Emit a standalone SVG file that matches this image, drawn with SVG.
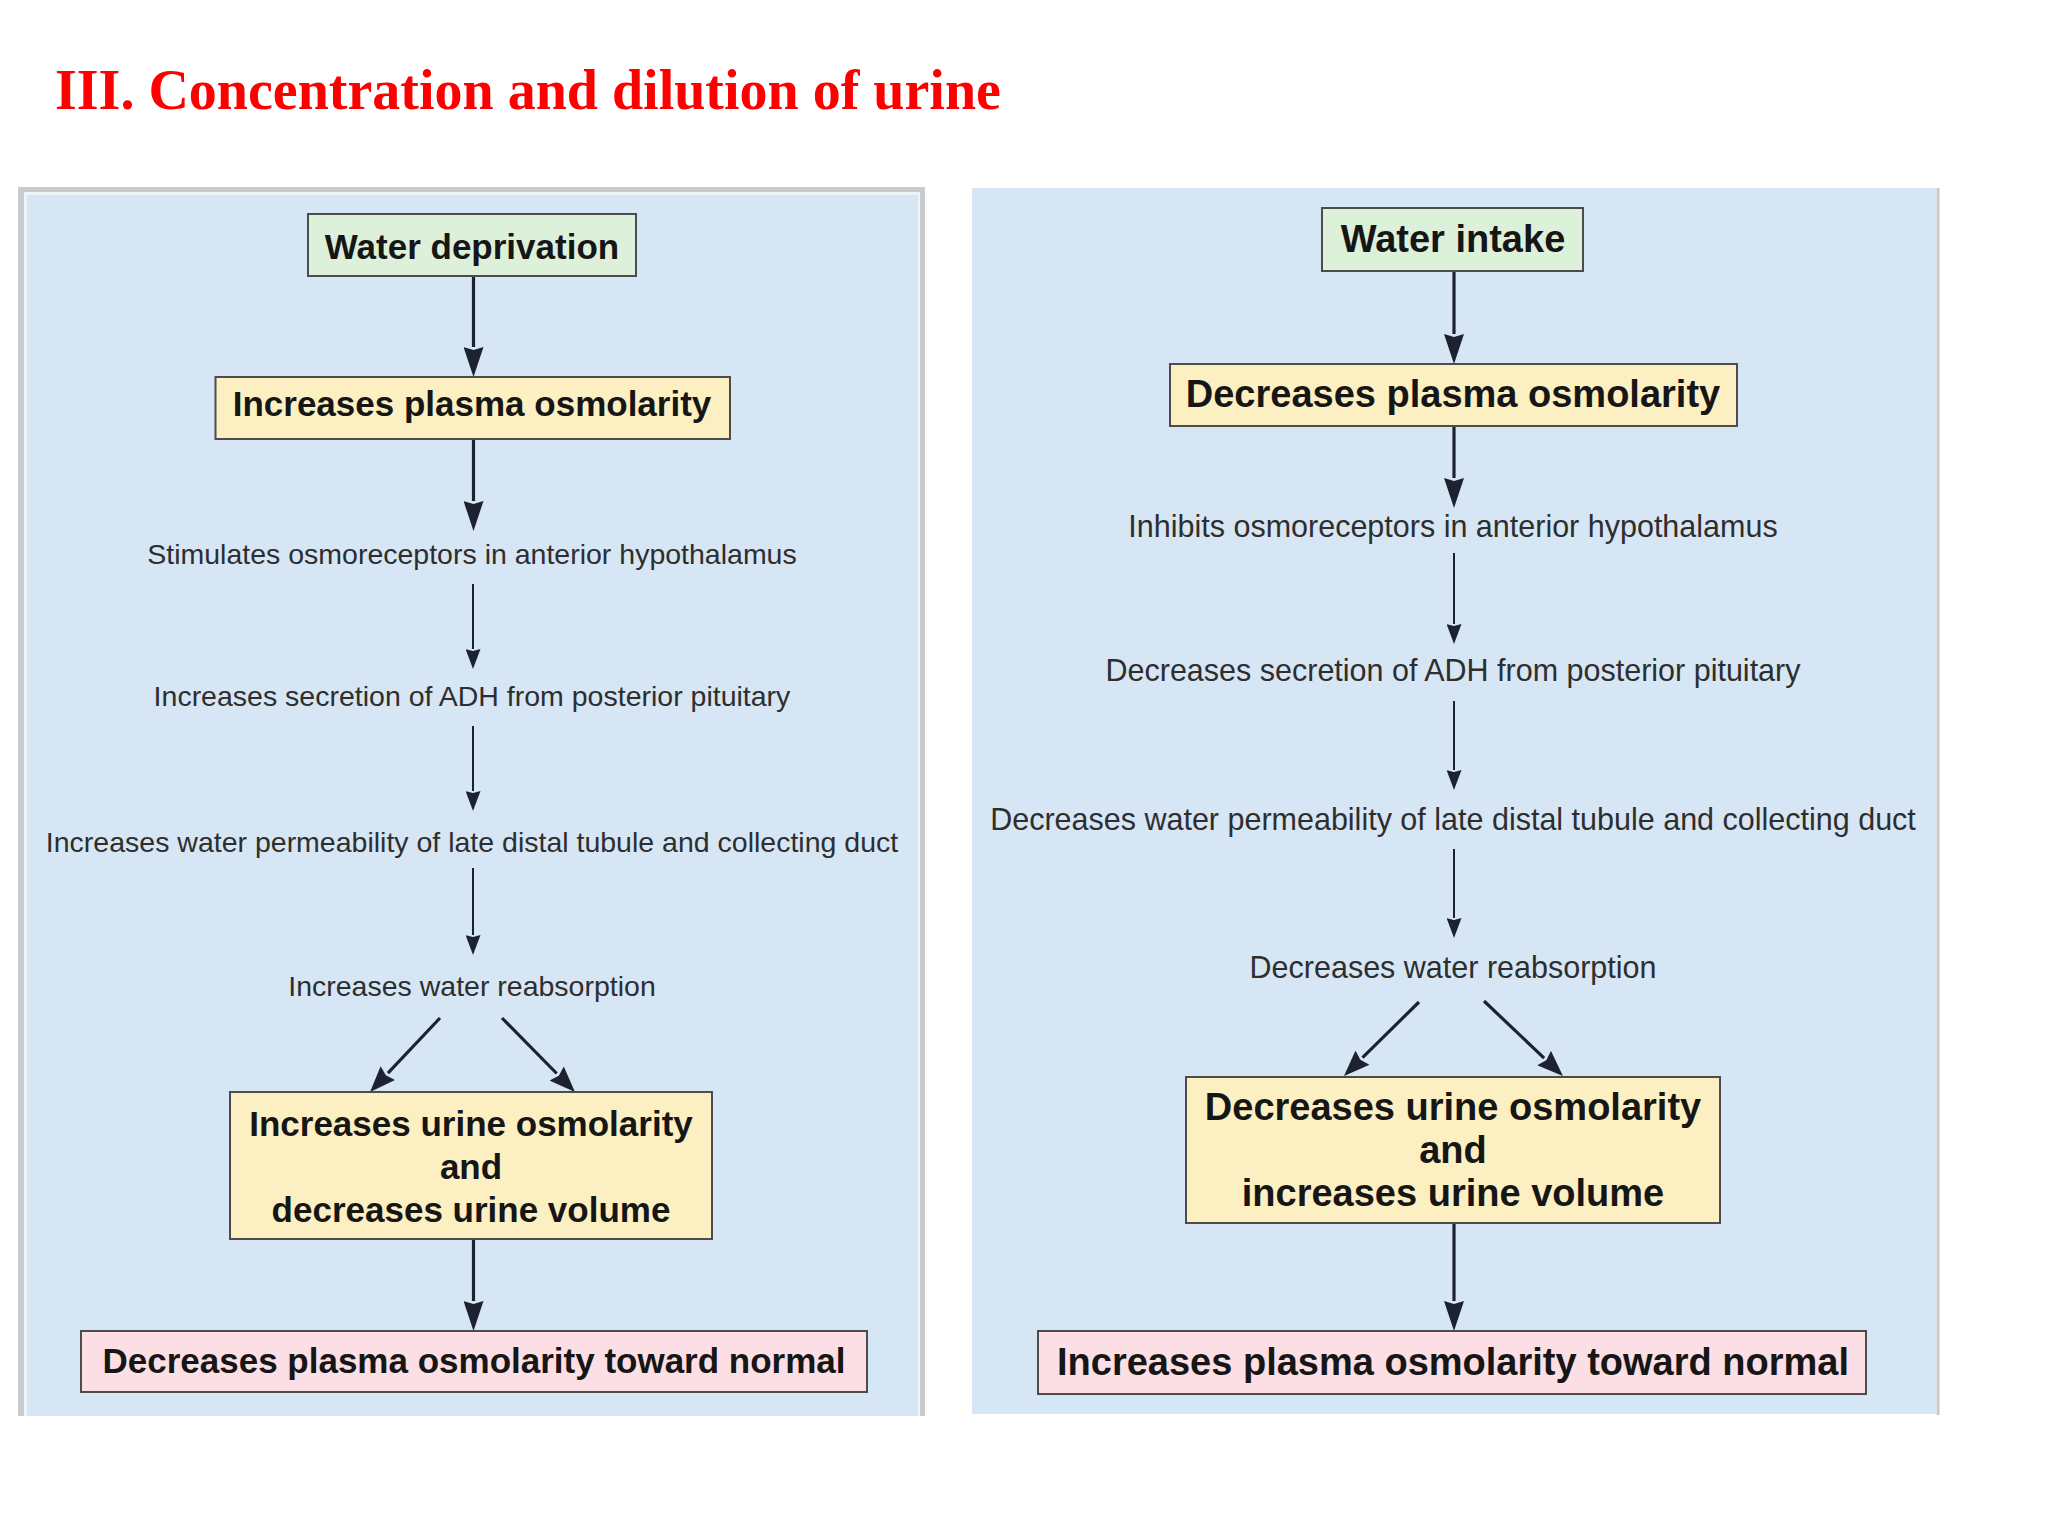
<svg xmlns="http://www.w3.org/2000/svg" width="2048" height="1536" viewBox="0 0 2048 1536">
<defs>
<style>
.title{font-family:"Liberation Serif","Times New Roman",serif;font-weight:bold;font-size:56px;fill:#ff0000}
.bl{font-family:"Liberation Sans",Arial,sans-serif;font-weight:bold;font-size:35px;fill:#161616;text-anchor:middle}
.br{font-family:"Liberation Sans",Arial,sans-serif;font-weight:bold;font-size:38px;fill:#161616;text-anchor:middle}
.tl{font-family:"Liberation Sans",Arial,sans-serif;font-size:28.5px;fill:#2e2e2e;text-anchor:middle}
.tr{font-family:"Liberation Sans",Arial,sans-serif;font-size:30.5px;fill:#2e2e2e;text-anchor:middle}
.green{fill:#ddf0d9;stroke:#4c4c4c;stroke-width:2}
.yellow{fill:#fcefc1;stroke:#4c4c4c;stroke-width:2}
.pink{fill:#fcdfe4;stroke:#4c4c4c;stroke-width:2}
.thick{stroke:#1c2230;stroke-width:3.2;fill:none}
.thin{stroke:#1c2230;stroke-width:2;fill:none}
.thick.v{marker-end:url(#headL)}
.thin.v{marker-end:url(#headS)}
.thick.d{marker-end:url(#headD)}
</style>
<marker id="headL" markerUnits="userSpaceOnUse" viewBox="0 0 30 20" refX="0" refY="10" markerWidth="30" markerHeight="20" orient="auto">
<path d="M0,0 L30,10 L0,20 L3,10 Z" fill="#1c2230"/>
</marker>
<marker id="headS" markerUnits="userSpaceOnUse" viewBox="0 0 20 15" refX="0" refY="7.5" markerWidth="20" markerHeight="15" orient="auto">
<path d="M0,0 L20,7.5 L0,15 L2,7.5 Z" fill="#1c2230"/>
</marker>
<marker id="headD" markerUnits="userSpaceOnUse" viewBox="0 0 26 20" refX="0" refY="10" markerWidth="26" markerHeight="20" orient="auto">
<path d="M0,0 L26,10 L0,20 L3,10 Z" fill="#1c2230"/>
</marker>
</defs>
<rect x="0" y="0" width="2048" height="1536" fill="#ffffff"/>
<text class="title" x="55" y="109">III. Concentration and dilution of urine</text>

<g id="panel-left">
<rect x="18" y="187" width="907" height="1229" fill="#c9cbce"/>
<rect x="24" y="192" width="896" height="1224" fill="#eef3f8"/>
<rect x="27" y="195" width="891" height="1221" fill="#d7e6f4"/>
</g>
<g id="panel-right">
<rect x="972" y="188" width="964" height="1226" fill="#d7e6f4"/>
<line x1="1938" y1="188" x2="1938" y2="1415" stroke="#c6c8cb" stroke-width="3"/>
</g>

<g id="connectors">
<line class="thick v" x1="473.5" y1="276" x2="473.5" y2="347"/>
<line class="thick v" x1="473.5" y1="439" x2="473.5" y2="501"/>
<line class="thin v" x1="473" y1="584" x2="473" y2="649"/>
<line class="thin v" x1="473" y1="726" x2="473" y2="791"/>
<line class="thin v" x1="473" y1="868" x2="473" y2="935"/>
<line class="thick d" x1="440" y1="1018" x2="387.9" y2="1073.1"/>
<line class="thick d" x1="502" y1="1018" x2="556.7" y2="1073.5"/>
<line class="thick v" x1="473.5" y1="1239" x2="473.5" y2="1301"/>

<line class="thick v" x1="1454" y1="271" x2="1454" y2="334"/>
<line class="thick v" x1="1454" y1="426" x2="1454" y2="478"/>
<line class="thin v" x1="1454" y1="553" x2="1454" y2="624"/>
<line class="thin v" x1="1454" y1="701" x2="1454" y2="770"/>
<line class="thin v" x1="1454" y1="849" x2="1454" y2="918"/>
<line class="thick d" x1="1419" y1="1002" x2="1362.5" y2="1057.7"/>
<line class="thick d" x1="1484" y1="1001" x2="1544.1" y2="1058.1"/>
<line class="thick v" x1="1454" y1="1223" x2="1454" y2="1301"/>
</g>

<g id="n-water-deprivation">
<rect class="green" x="308" y="214" width="328" height="62"/>
<text class="bl" x="472" y="259">Water deprivation</text>
</g>
<g id="n-inc-plasma-osm">
<rect class="yellow" x="215.5" y="377" width="514.5" height="62"/>
<text class="bl" x="472" y="416">Increases plasma osmolarity</text>
</g>
<g id="n-stimulates">
<text class="tl" x="472" y="564">Stimulates osmoreceptors in anterior hypothalamus</text>
</g>
<g id="n-inc-adh">
<text class="tl" x="472" y="706">Increases secretion of ADH from posterior pituitary</text>
</g>
<g id="n-inc-perm">
<text class="tl" x="472" y="852">Increases water permeability of late distal tubule and collecting duct</text>
</g>
<g id="n-inc-reabs">
<text class="tl" x="472" y="996">Increases water reabsorption</text>
</g>
<g id="n-inc-urine-osm">
<rect class="yellow" x="230" y="1092" width="482" height="147"/>
<text class="bl" x="471" y="1136">Increases urine osmolarity</text>
<text class="bl" x="471" y="1179">and</text>
<text class="bl" x="471" y="1222">decreases urine volume</text>
</g>
<g id="n-dec-plasma-normal">
<rect class="pink" x="81" y="1331" width="786" height="61"/>
<text class="bl" x="474" y="1373">Decreases plasma osmolarity toward normal</text>
</g>

<g id="n-water-intake">
<rect class="green" x="1322" y="208" width="261" height="63"/>
<text class="br" x="1453" y="252">Water intake</text>
</g>
<g id="n-dec-plasma-osm">
<rect class="yellow" x="1170" y="364" width="567" height="62"/>
<text class="br" x="1453" y="407">Decreases plasma osmolarity</text>
</g>
<g id="n-inhibits">
<text class="tr" x="1453" y="537">Inhibits osmoreceptors in anterior hypothalamus</text>
</g>
<g id="n-dec-adh">
<text class="tr" x="1453" y="681">Decreases secretion of ADH from posterior pituitary</text>
</g>
<g id="n-dec-perm">
<text class="tr" x="1453" y="830">Decreases water permeability of late distal tubule and collecting duct</text>
</g>
<g id="n-dec-reabs">
<text class="tr" x="1453" y="978">Decreases water reabsorption</text>
</g>
<g id="n-dec-urine-osm">
<rect class="yellow" x="1186" y="1077" width="534" height="146"/>
<text class="br" x="1453" y="1120">Decreases urine osmolarity</text>
<text class="br" x="1453" y="1163">and</text>
<text class="br" x="1453" y="1206">increases urine volume</text>
</g>
<g id="n-inc-plasma-normal">
<rect class="pink" x="1038" y="1331" width="828" height="63"/>
<text class="br" x="1453" y="1375">Increases plasma osmolarity toward normal</text>
</g>
</svg>
